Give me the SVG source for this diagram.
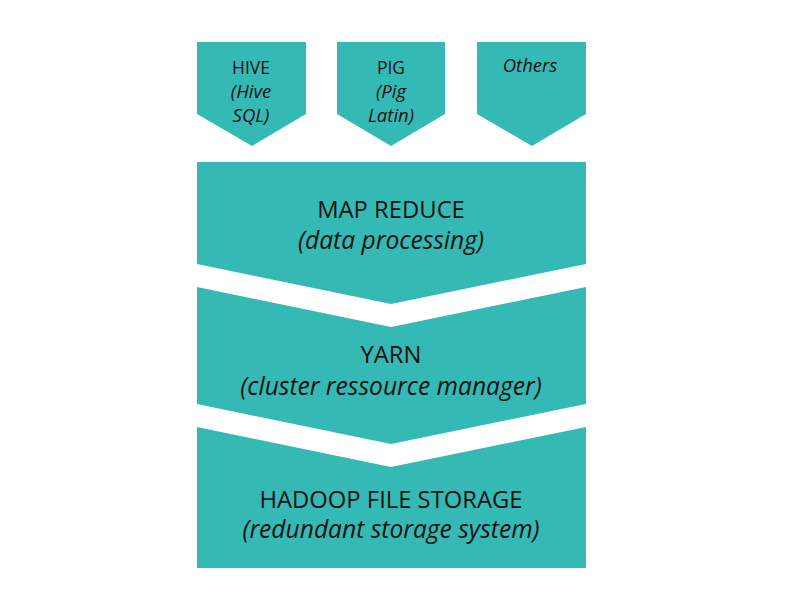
<svg xmlns="http://www.w3.org/2000/svg" width="800" height="600" viewBox="0 0 800 600">
<style>
.shape{fill:#35b9b5;}
text{font-family:"Open Sans","Noto Sans","Liberation Sans",sans-serif;fill:#111;text-anchor:middle;}
.t{font-size:23.8px;}
.s{font-size:24.6px;font-style:italic;}
.st{font-size:17.5px;}
.ss{font-size:18.5px;font-style:italic;}
</style>
<rect width="800" height="600" fill="#fff"/>
<g id="hive">
<polygon class="shape" points="197,42 306,42 306,114 252,146 197,114"/>
<text class="st" x="251" y="74">HIVE</text>
<text class="ss" x="251" y="98">(Hive</text>
<text class="ss" x="251" y="122">SQL)</text>
</g>
<g id="pig">
<polygon class="shape" points="337,42 445,42 445,114 391,146 337,114"/>
<text class="st" x="391" y="74">PIG</text>
<text class="ss" x="391" y="98">(Pig</text>
<text class="ss" x="391" y="122">Latin)</text>
</g>
<g id="others">
<polygon class="shape" points="477,42 586,42 586,114 532,146 477,114"/>
<text class="ss" x="530" y="72">Others</text>
</g>
<g id="mapreduce">
<polygon class="shape" points="197,162 586,162 586,264 391,304 197,264"/>
<text class="t" x="391" y="218">MAP REDUCE</text>
<text class="s" x="391" y="249">(data processing)</text>
</g>
<g id="yarn">
<polygon class="shape" points="197,287 391,327 586,287 586,404 391,444 197,404"/>
<text class="t" x="391" y="363">YARN</text>
<text class="s" x="391" y="395">(cluster ressource manager)</text>
</g>
<g id="hdfs">
<polygon class="shape" points="197,427 391,467 586,427 586,568 197,568"/>
<text class="t" x="391" y="508">HADOOP FILE STORAGE</text>
<text class="s" x="391" y="538">(redundant storage system)</text>
</g>
<g id="connectors"/>
</svg>
